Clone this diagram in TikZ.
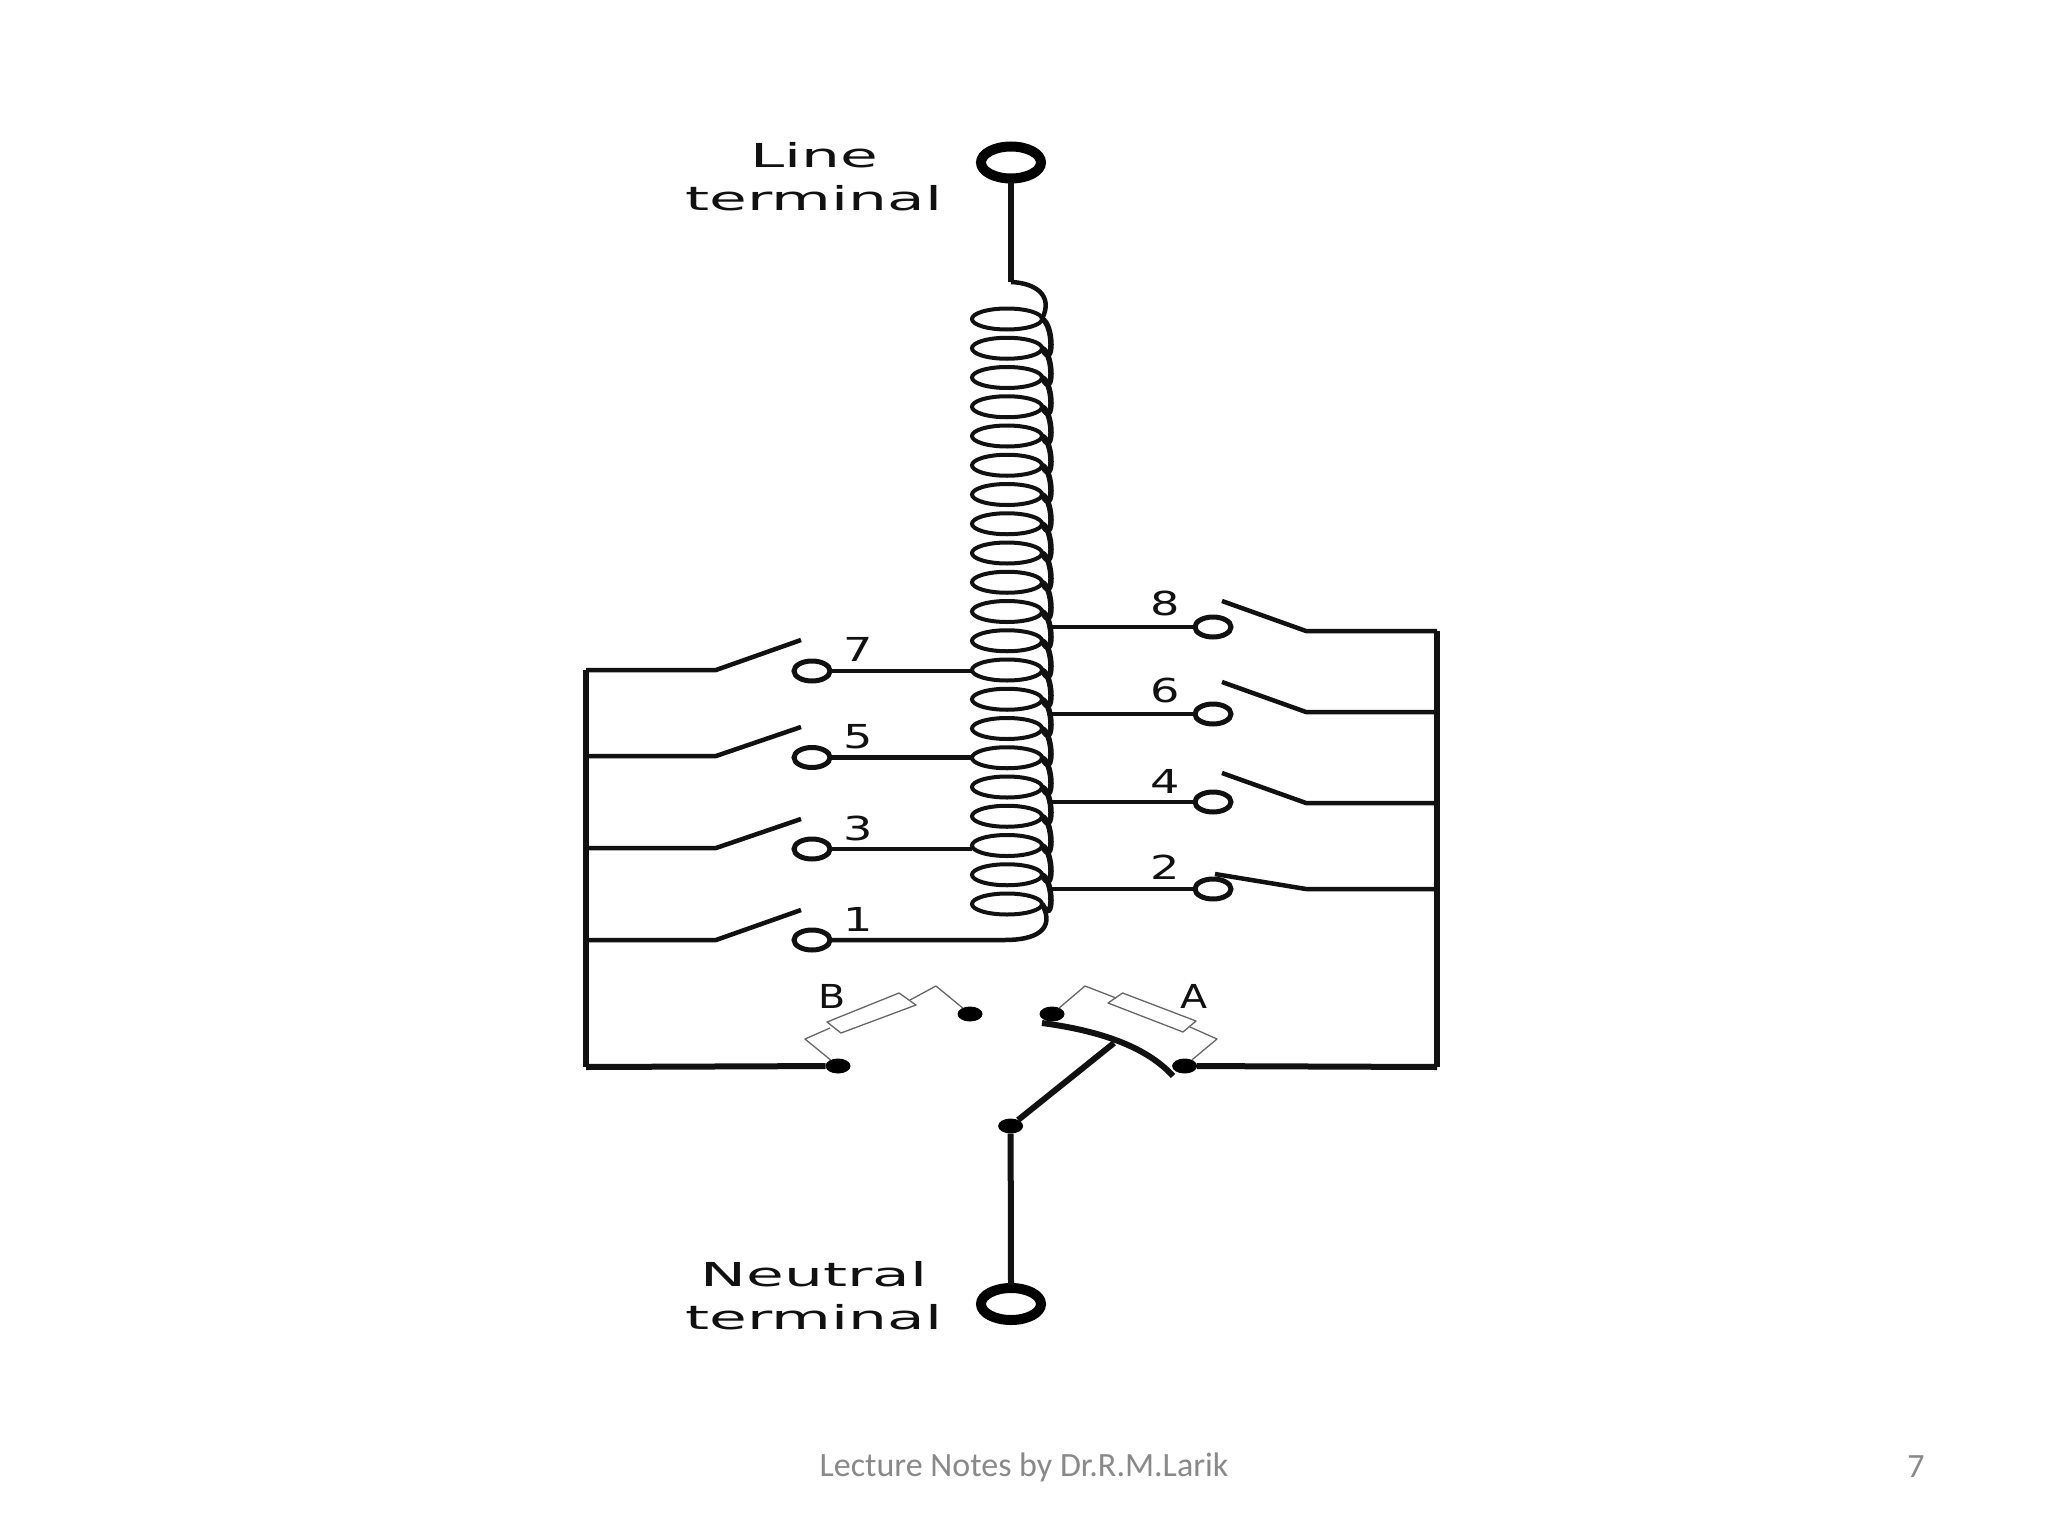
\documentclass[tikz,border=0pt]{standalone}
\usepackage{graphicx}
\usepackage{fontspec}
\setmainfont{DejaVu Sans}
\newfontfamily\footfont{Carlito}
\usetikzlibrary{shapes.geometric}
\definecolor{inkc}{HTML}{111111}
\definecolor{footc}{HTML}{898989}
\definecolor{thinc}{HTML}{666666}
\tikzset{
  wire/.style={draw=inkc,line width=4.5pt},
  heavy/.style={draw=inkc,line width=6pt},
  thinw/.style={draw=thinc,line width=1.3pt,line join=round},
  mainterm/.style={ellipse,draw=black,line width=10pt,minimum width=60pt,minimum height=32pt,inner sep=0pt,outer sep=3pt,fill=white},
  tapterm/.style={ellipse,draw=inkc,line width=5pt,minimum width=36pt,minimum height=20pt,inner sep=0pt,outer sep=2pt,fill=white},
  coilloop/.style={ellipse,draw=inkc,line width=4pt,minimum width=70pt,minimum height=21pt,inner sep=0pt,outer sep=0pt},
  contact/.style={ellipse,fill=black,minimum width=25pt,minimum height=15pt,inner sep=0pt,outer sep=0pt},
  lab/.style={inner sep=0pt,text=inkc,align=center},
  foot/.style={inner sep=0pt,text=footc,font=\footfont\fontsize{34}{40}\selectfont}
}
\newcommand{\widetxt}[1]{\scalebox{1.86}[1]{#1}}
\begin{document}
\begin{tikzpicture}[x=1pt,y=-1pt]
\useasboundingbox (0,0) rectangle (2048,1536);
\fill[white] (0,0) rectangle (2048,1536);
% terminals
\node[mainterm] (line) at (1011,162.5) {};
\node[mainterm] (neutral) at (1011,1304) {};
% coil
\foreach \i in {1,...,21}{
  \pgfmathsetmacro{\yy}{319+(\i-1)*29.25}
  \node[coilloop] (coil\i) at (1007,\yy) {};
}
\foreach \i [evaluate=\i as \j using int(\i+1)] in {1,...,20}{
  \draw[draw=inkc,line width=5.5pt] (coil\i.east) .. controls +(12,5) and +(12,24) .. (coil\j.east);
}
\coordinate (coiltop) at (1011,282);
\draw[heavy] (line.south) -- (coiltop);
\draw[wire] (coiltop) .. controls (1035,283) and (1054,295) .. (coil1.east);
% tap terminals, left
\node[tapterm] (t7) at (812,671) {};
\node[tapterm] (t5) at (812,757.5) {};
\node[tapterm] (t3) at (812,849) {};
\node[tapterm] (t1) at (812,940) {};
% tap terminals, right
\node[tapterm] (t8) at (1213,627) {};
\node[tapterm] (t6) at (1213,714) {};
\node[tapterm] (t4) at (1213,802) {};
\node[tapterm] (t2) at (1213,889) {};
% tap wires
\draw[wire] (t7.east) -- (t7.east -| coil13.west);
\draw[wire] (t5.east) -- (t5.east -| coil16.west);
\draw[wire] (t3.east) -- (t3.east -| coil19.west);
\coordinate (coilend) at (1005,940);
\draw[wire] (t1.east) -- (coilend) .. controls (1035,940) and (1056,930) .. (coil21.east);
\foreach \n/\y in {8/627,6/714,4/802,2/889}{
  \coordinate (tap\n) at (1050,\y);
  \draw[wire] (tap\n) -- (t\n.west);
}
% bus bars
\coordinate (busLt) at (586,670);
\coordinate (busLb) at (586,1067);
\coordinate (busRt) at (1437,631);
\coordinate (busRb) at (1437,1067);
\draw[heavy] (busLt) -- (busLb);
\draw[heavy] (busRt) -- (busRb);
% left switches
\foreach \n/\y/\ty in {7/670/640,5/756/727,3/848/819,1/940/910}{
  \coordinate (k\n) at (716,\y);
  \coordinate (b\n) at (586,\y);
  \coordinate (e\n) at (801,\ty);
  \draw[wire,line join=round] (b\n) -- (k\n) -- (e\n);
}
% right switches
\foreach \n/\y/\ty/\tx in {8/631/601/1222,6/712/682/1222,4/803/773/1222,2/889/874/1215}{
  \coordinate (k\n) at (1306,\y);
  \coordinate (b\n) at (1437,\y);
  \coordinate (e\n) at (\tx,\ty);
  \draw[wire,line join=round] (b\n) -- (k\n) -- (e\n);
}
% diverter contacts
\node[contact] (cbl) at (838,1066) {};
\node[contact] (cbr) at (970,1014) {};
\node[contact] (cal) at (1052,1014) {};
\node[contact] (car) at (1184.6,1066) {};
\node[contact] (cpiv) at (1010.6,1126) {};
\draw[heavy] (busLb -| busLt) -- (busLb) -- (cbl);
\draw[heavy] (busRb) -- (car);
\draw[heavy] (cpiv) -- (neutral.north);
% moving arm
\coordinate (armtop) at (1114,1043);
\coordinate (arml) at (1042,1023);
\coordinate (armr) at (1173,1076);
\draw[heavy] (cpiv) -- (armtop);
\draw[heavy] (arml) .. controls (1095,1030) and (1145,1045) .. (armr);
% resistor B
\draw[thinw] (cbl) -- (805,1039) -- (830,1028);
\draw[thinw] (827,1022) -- (841,1033) -- (916,1005) -- (899,993) -- cycle;
\draw[thinw] (910,1000) -- (936,986) -- (cbr);
% resistor A
\draw[thinw] (cal) -- (1085,986) -- (1116,998);
\draw[thinw] (1122.6,993) -- (1108,1003) -- (1183,1032) -- (1196,1021) -- cycle;
\draw[thinw] (1190,1027) -- (1217,1039) -- (car);
% labels
\node[lab,font=\fontsize{33}{43}\selectfont] (lineLab) at (814,177) {\widetxt{Line}\\\widetxt{terminal}};
\node[lab,font=\fontsize{33}{43}\selectfont] (neutralLab) at (814,1296) {\widetxt{Neutral}\\\widetxt{terminal}};
\foreach \n/\x/\y in {7/858/649,5/858/737,3/858/828,1/858/919,8/1165/603,6/1165/690,4/1165/781,2/1165/867}{
  \node[lab,font=\fontsize{33}{40}\selectfont] (num\n) at (\x,\y) {\scalebox{1.4}[1]{\n}};
}
\node[lab,font=\fontsize{33}{40}\selectfont] (labB) at (832,996.5) {\scalebox{1.2}[1]{B}};
\node[lab,font=\fontsize{33}{40}\selectfont] (labA) at (1194,996.5) {\scalebox{1.2}[1]{A}};
\node[foot] (footer) at (1024,1467) {Lecture Notes by Dr.R.M.Larik};
\node[foot] (pagenum) at (1916,1467) {7};
\end{tikzpicture}
\end{document}
